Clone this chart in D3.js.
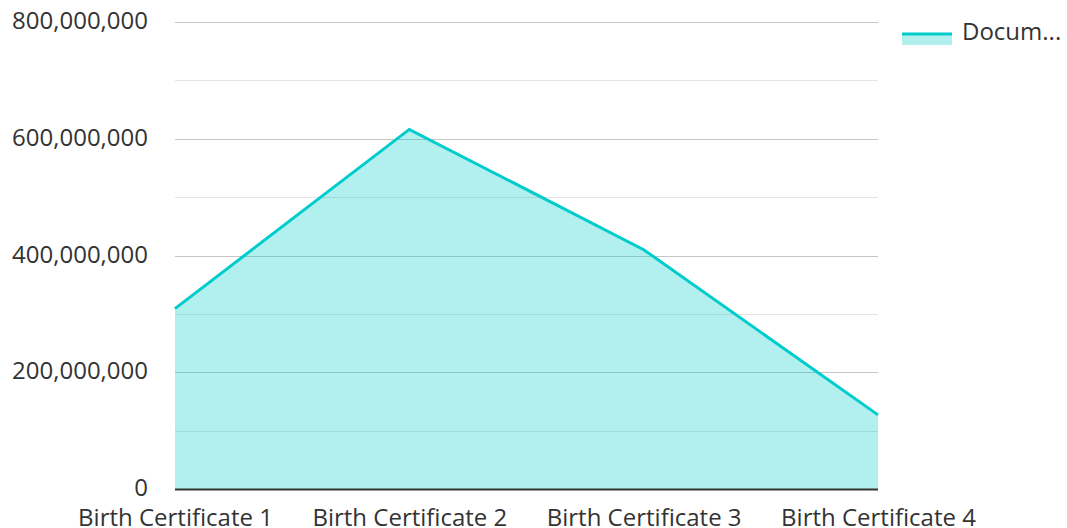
<!DOCTYPE html>
<html>
<head>
<meta charset="utf-8">
<script src="https://cdn.jsdelivr.net/npm/d3@7"></script>
<style>
  html, body { margin: 0; padding: 0; background: #fff; }
  text { font-family: "Open Sans", "Noto Sans", sans-serif; fill: #333; }
</style>
</head>
<body>
<div id="chart"></div>
<script>
var categories = ['Birth Certificate 1', 'Birth Certificate 2', 'Birth Certificate 3', 'Birth Certificate 4'],
  seriesName = 'Documents',
  values = [309000000, 616000000, 410000000, 127000000],
  yTicks = [0, 200000000, 400000000, 600000000, 800000000],
  yMinorTicks = [100000000, 300000000, 500000000, 700000000];

var width = 1067, height = 528,
  margin = {top: 22, right: 189, bottom: 39, left: 175},
  lineColor = '#00cccc',
  fontSize = '24px';

var svg = d3.select('#chart').append('svg')
  .attr('width', width)
  .attr('height', height);

var x = d3.scalePoint()
  .domain(categories)
  .range([margin.left, width - margin.right]);

var y = d3.scaleLinear()
  .domain([0, 800000000])
  .range([height - margin.bottom, margin.top]);

// minor grid
svg.append('g')
  .selectAll('line')
  .data(yMinorTicks)
  .enter().append('line')
  .attr('x1', margin.left).attr('x2', width - margin.right)
  .attr('y1', function (d) { return Math.round(y(d)) + 0.5; })
  .attr('y2', function (d) { return Math.round(y(d)) + 0.5; })
  .attr('stroke', '#e4e4e4');

// major grid
svg.append('g')
  .selectAll('line')
  .data(yTicks.slice(1))
  .enter().append('line')
  .attr('x1', margin.left).attr('x2', width - margin.right)
  .attr('y1', function (d) { return Math.round(y(d)) + 0.5; })
  .attr('y2', function (d) { return Math.round(y(d)) + 0.5; })
  .attr('stroke', '#c6c6c6');

var area = d3.area()
  .x(function (d, i) { return x(categories[i]); })
  .y0(y(0))
  .y1(function (d) { return y(d); });

var line = d3.line()
  .x(function (d, i) { return x(categories[i]); })
  .y(function (d) { return y(d); });

svg.append('path')
  .datum(values)
  .attr('d', area)
  .attr('fill', lineColor)
  .attr('fill-opacity', 0.3);

svg.append('path')
  .datum(values)
  .attr('d', line)
  .attr('fill', 'none')
  .attr('stroke', lineColor)
  .attr('stroke-width', 3);

// y axis labels
var fmt = d3.format(',');
svg.append('g')
  .selectAll('text')
  .data(yTicks)
  .enter().append('text')
  .attr('x', 148)
  .attr('y', function (d) { return y(d); })
  .attr('dy', '0.3em')
  .attr('text-anchor', 'end')
  .style('font-size', fontSize)
  .text(function (d) { return fmt(d); });

// x axis
var xAxis = svg.append('g')
  .attr('transform', 'translate(0,' + y(0) + ')')
  .call(d3.axisBottom(x).tickSize(0).tickPadding(20));
xAxis.select('.domain')
  .attr('d', 'M' + margin.left + ',0.5H' + (width - margin.right))
  .attr('stroke', '#333').attr('stroke-width', 2);
xAxis.selectAll('text')
  .attr('font-family', null)
  .style('font-size', fontSize)
  .attr('dy', '0.71em');

// legend
var lg = svg.append('g').attr('transform', 'translate(902,33)');
lg.append('rect').attr('x', 0).attr('y', 0).attr('width', 50).attr('height', 12)
  .attr('fill', lineColor).attr('fill-opacity', 0.3);
lg.append('line').attr('x1', 0).attr('x2', 50).attr('y1', 1).attr('y2', 1)
  .attr('stroke', lineColor).attr('stroke-width', 3);
lg.append('text').attr('x', 60).attr('y', 0).attr('dy', '0.3em')
  .style('font-size', fontSize)
  .text('Docum...');
</script>
</body>
</html>
